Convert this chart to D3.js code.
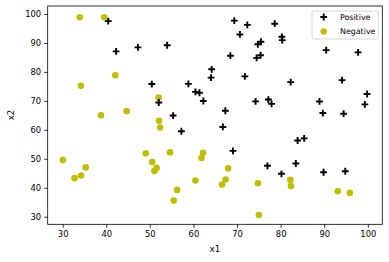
<!DOCTYPE html>
<html>
<head>
<meta charset="utf-8">
<script src="https://cdn.jsdelivr.net/npm/d3@7"></script>
<style>
  html, body { margin: 0; padding: 0; background: #fff; }
  svg { display: block; font-family: "DejaVu Sans", sans-serif; }
</style>
</head>
<body>
<svg id="chart" width="389" height="262"></svg>
<script>
// Positive class (x1, x2)
const posX1 = [40.46, 42.26, 47.26, 50.46, 52.05, 53.97, 55.34, 57.24, 58.84, 60.46, 61.38, 62.27,
  64.18, 64.04, 66.75, 67.32, 68.47, 69.07, 69.36, 70.66, 71.80, 72.35, 74.25, 74.49, 74.78, 75.40,
  75.48, 76.98, 77.19, 77.92, 78.64, 80.19, 80.28, 80.37, 82.31, 83.49, 83.90, 85.40, 88.91, 89.68,
  89.85, 90.45, 94.09, 94.44, 94.83, 97.77, 99.32, 99.83];
const posX2 = [97.54, 87.10, 88.48, 75.81, 69.43, 89.21, 64.93, 59.51, 75.86, 73.09, 72.81, 69.95,
  80.91, 78.03, 60.99, 66.59, 85.59, 52.74, 97.72, 92.93, 78.45, 96.23, 69.82, 84.85, 89.53, 85.76,
  90.42, 47.58, 70.46, 68.97, 96.65, 44.82, 92.12, 90.96, 76.48, 48.38, 56.31, 57.05, 69.80, 65.80,
  45.36, 87.51, 77.16, 65.57, 45.69, 86.73, 68.78, 72.37];
// Negative class (x1, x2)
const negX1 = [33.92, 39.54, 42.08, 34.18, 52.00, 44.67, 38.79, 52.11, 52.35, 30.06, 32.72, 34.21,
  35.29, 49.07, 50.53, 51.55, 51.05, 54.64, 62.22, 61.83, 67.95, 67.37, 66.56, 60.46, 56.25, 55.48,
  74.79, 75.01, 82.23, 82.37, 93.11, 95.86];
const negX2 = [98.87, 98.90, 78.84, 75.24, 71.17, 66.45, 65.00, 63.13, 60.77, 49.59, 43.31, 44.21,
  47.02, 51.88, 48.86, 46.86, 45.82, 52.21, 52.06, 50.26, 46.68, 42.84, 41.09, 42.51, 39.26, 35.57,
  41.57, 30.60, 42.72, 40.62, 38.80, 38.23];
const xTicks = [30, 40, 50, 60, 70, 80, 90, 100];
const yTicks = [30, 40, 50, 60, 70, 80, 90, 100];
const xDomain = [26.57, 103.32];
const yDomain = [27.38, 102.76];
const seriesNames = ["Positive", "Negative"];
const xLabel = "x1", yLabel = "x2";

const svg = d3.select("#chart");
const L = 47.7, R = 382.3, T = 6, B = 224.3;
const fs = 8.4;

const x = d3.scaleLinear().domain(xDomain).range([L, R]);
const y = d3.scaleLinear().domain(yDomain).range([B, T]);

// Axes
const xa = svg.append("g").attr("transform", `translate(0,${B})`)
  .call(d3.axisBottom(x).tickValues(xTicks).tickSize(3.5).tickPadding(3).tickFormat(d3.format("d")));
const ya = svg.append("g").attr("transform", `translate(${L},0)`)
  .call(d3.axisLeft(y).tickValues(yTicks).tickSize(3.5).tickPadding(3).tickFormat(d3.format("d")));
[xa, ya].forEach(g => {
  g.select(".domain").remove();
  g.selectAll("line").attr("stroke", "#000").attr("stroke-width", 0.8);
  g.selectAll("text").attr("font-size", fs).attr("fill", "#000")
    .attr("font-family", "DejaVu Sans, sans-serif");
});

// Points
const negColor = "#bfbf00";
svg.append("g").selectAll("circle").data(negX1.map((v, i) => [v, negX2[i]])).join("circle")
  .attr("cx", d => x(d[0])).attr("cy", d => y(d[1])).attr("r", 3.3)
  .attr("fill", negColor);
const plus = "M-3.4,0H3.4M0,-3.4V3.4";
svg.append("g").selectAll("path").data(posX1.map((v, i) => [v, posX2[i]])).join("path")
  .attr("transform", d => `translate(${x(d[0])},${y(d[1])})`)
  .attr("d", plus).attr("stroke", "#000").attr("stroke-width", 1.9).attr("fill", "none");

// Frame
svg.append("rect").attr("x", L).attr("y", T).attr("width", R - L).attr("height", B - T)
  .attr("fill", "none").attr("stroke", "#000").attr("stroke-width", 0.8);

// Axis labels
svg.append("text").attr("x", (L + R) / 2).attr("y", 252).attr("text-anchor", "middle")
  .attr("font-size", fs).text(xLabel);
svg.append("text").attr("transform", `translate(14,${(T + B) / 2}) rotate(-90)`)
  .attr("text-anchor", "middle").attr("font-size", fs).text(yLabel);

// Legend
const lg = svg.append("g");
lg.append("rect").attr("x", 312).attr("y", 11).attr("width", 66.3).attr("height", 28)
  .attr("rx", 2).attr("fill", "#fff").attr("fill-opacity", 0.8)
  .attr("stroke", "#ccc").attr("stroke-width", 0.8);
lg.append("path").attr("transform", "translate(323.7,17)").attr("d", plus)
  .attr("stroke", "#000").attr("stroke-width", 1.9);
lg.append("circle").attr("cx", 323.7).attr("cy", 31.5).attr("r", 3.3).attr("fill", negColor);
lg.append("text").attr("x", 340).attr("y", 17).attr("dy", "0.35em").attr("font-size", 7.9).text(seriesNames[0]);
lg.append("text").attr("x", 340).attr("y", 31.5).attr("dy", "0.35em").attr("font-size", 7.9).text(seriesNames[1]);
</script>
</body>
</html>
